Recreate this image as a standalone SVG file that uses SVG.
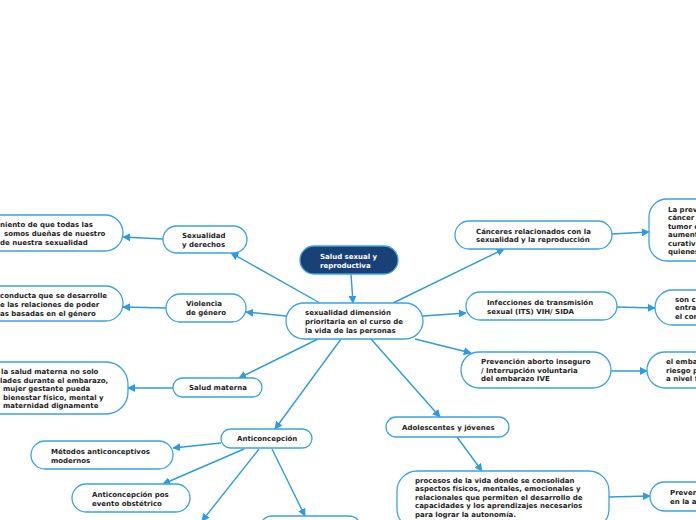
<svg xmlns="http://www.w3.org/2000/svg" width="696" height="520" viewBox="0 0 696 520">
<defs>
<marker id="ah" viewBox="0 0 10 10" refX="9" refY="5" markerWidth="8" markerHeight="8" markerUnits="userSpaceOnUse" orient="auto">
<path d="M0,0 L10,5 L0,10 z" fill="#2d9be3"/>
</marker>
<style>
.n{fill:#fff;stroke:#3aa3e8;stroke-width:1.3}
.r{fill:#1a4176;stroke:#3aa3e8;stroke-width:1.3}
.t{font-family:"DejaVu Sans",Verdana,sans-serif;font-weight:bold;font-size:7px;fill:#1e1e1e}
.w{fill:#fff}
.c path{fill:none;stroke:#2d9be3;stroke-width:1.4;marker-end:url(#ah)}
</style>
</defs>
<rect width="696" height="520" fill="#fff"/>
<g class="c">
<path d="M351,274 L353,303"/>
<path d="M320,303 L231,253"/>
<path d="M163,239 L123,237"/>
<path d="M286,316 L246,312"/>
<path d="M166,308 L123,307"/>
<path d="M318,339 L239,378"/>
<path d="M173,388 L128,388"/>
<path d="M341,339 L275,429"/>
<path d="M221,443 L173,448"/>
<path d="M244,449 L163,484"/>
<path d="M259,449 L202,521"/>
<path d="M272,449 L305,516"/>
<path d="M371,339 L440,417"/>
<path d="M457,437 L482,471"/>
<path d="M609,497 L650,496"/>
<path d="M393,303 L504,249"/>
<path d="M612,234 L649,232"/>
<path d="M423,316 L466,313"/>
<path d="M617,307 L655,308"/>
<path d="M415,339 L471,353"/>
<path d="M611,371 L647,371"/>
</g>
<g id="root">
<rect class="r" x="300" y="246" width="98" height="28" rx="14"/>
<text class="t w" x="320" y="259">Salud sexual y</text>
<text class="t w" x="320" y="268">reproductiva</text>
</g>
<g id="central">
<rect class="n" x="286" y="303" width="137" height="36" rx="18"/>
<text class="t" x="305" y="315">sexualidad dimensión</text>
<text class="t" x="305" y="324">prioritaria en el curso de</text>
<text class="t" x="305" y="333">la vida de las personas</text>
</g>
<g id="sexualidad">
<rect class="n" x="163" y="226" width="84" height="27" rx="13.5"/>
<text class="t" x="182" y="238">Sexualidad</text>
<text class="t" x="182" y="247">y derechos</text>
</g>
<g id="sexualidad-desc">
<rect class="n" x="-60" y="215" width="183" height="36" rx="18"/>
<text class="t" x="0" y="227">niento de que todas las</text>
<text class="t" x="4" y="236">somos dueñas de nuestro</text>
<text class="t" x="0" y="245">de nuestra sexualidad</text>
</g>
<g id="violencia">
<rect class="n" x="166" y="294" width="80" height="28" rx="14"/>
<text class="t" x="186" y="306">Violencia</text>
<text class="t" x="186" y="315">de género</text>
</g>
<g id="violencia-desc">
<rect class="n" x="-60" y="286" width="183" height="35" rx="17.5"/>
<text class="t" x="0" y="298">conducta que se desarrolle</text>
<text class="t" x="0" y="307">e las relaciones de poder</text>
<text class="t" x="0" y="316">as basadas en el género</text>
</g>
<g id="salud-materna">
<rect class="n" x="173" y="378" width="89" height="19" rx="9.5"/>
<text class="t" x="189" y="390">Salud materna</text>
</g>
<g id="salud-materna-desc">
<rect class="n" x="-60" y="362" width="188" height="52" rx="22"/>
<text class="t" x="1" y="374">la salud materna no solo</text>
<text class="t" x="0" y="383">lades durante el embarazo,</text>
<text class="t" x="3" y="391">mujer gestante pueda</text>
<text class="t" x="3" y="400">bienestar físico, mental y</text>
<text class="t" x="3" y="408">maternidad dignamente</text>
</g>
<g id="anticoncepcion">
<rect class="n" x="221" y="429" width="91" height="19" rx="9.5"/>
<text class="t" x="237" y="441">Anticoncepción</text>
</g>
<g id="metodos">
<rect class="n" x="31" y="441" width="142" height="28" rx="14"/>
<text class="t" x="51" y="454">Métodos anticonceptivos</text>
<text class="t" x="51" y="463">modernos</text>
</g>
<g id="pos-evento">
<rect class="n" x="72" y="484" width="118" height="28" rx="14"/>
<text class="t" x="92" y="497">Anticoncepción pos</text>
<text class="t" x="92" y="506">evento obstétrico</text>
</g>
<g id="anticoncepcion-otro">
<rect class="n" x="260" y="516" width="101" height="24" rx="12"/>
</g>
<g id="adolescentes">
<rect class="n" x="386" y="417" width="123" height="20" rx="10"/>
<text class="t" x="402" y="430">Adolescentes y jóvenes</text>
</g>
<g id="procesos">
<rect class="n" x="397" y="471" width="212" height="58" rx="20"/>
<text class="t" x="415" y="483">procesos de la vida donde se consolidan</text>
<text class="t" x="415" y="491">aspectos físicos, mentales, emocionales y</text>
<text class="t" x="415" y="500">relacionales que permiten el desarrollo de</text>
<text class="t" x="415" y="508">capacidades y los aprendizajes necesarios</text>
<text class="t" x="415" y="517">para lograr la autonomía.</text>
</g>
<g id="prevencion-adol">
<rect class="n" x="650" y="482" width="120" height="29" rx="14.5"/>
<text class="t" x="670" y="495">Preven</text>
<text class="t" x="670" y="504">en la a</text>
</g>
<g id="canceres">
<rect class="n" x="455" y="221" width="157" height="28" rx="14"/>
<text class="t" x="476" y="234">Cánceres relacionados con la</text>
<text class="t" x="476" y="242">sexualidad y la reproducción</text>
</g>
<g id="canceres-desc">
<rect class="n" x="649" y="199" width="120" height="62" rx="18"/>
<text class="t" x="668" y="212">La prev</text>
<text class="t" x="668" y="220">cáncer</text>
<text class="t" x="668" y="229">tumor e</text>
<text class="t" x="668" y="237">aument</text>
<text class="t" x="668" y="246">curativ</text>
<text class="t" x="668" y="254">quienes</text>
</g>
<g id="infecciones">
<rect class="n" x="466" y="292" width="151" height="28" rx="14"/>
<text class="t" x="487" y="305">Infecciones de transmisión</text>
<text class="t" x="487" y="314">sexual (ITS) VIH/ SIDA</text>
</g>
<g id="infecciones-desc">
<rect class="n" x="655" y="290" width="120" height="35" rx="17.5"/>
<text class="t" x="675" y="302">son c</text>
<text class="t" x="675" y="310">entra</text>
<text class="t" x="675" y="319">el cor</text>
</g>
<g id="aborto">
<rect class="n" x="461" y="352" width="150" height="36" rx="18"/>
<text class="t" x="481" y="364">Prevención aborto inseguro</text>
<text class="t" x="481" y="373">/ Interrupción voluntaria</text>
<text class="t" x="481" y="381">del embarazo IVE</text>
</g>
<g id="aborto-desc">
<rect class="n" x="647" y="352" width="120" height="36" rx="18"/>
<text class="t" x="666" y="364">el emba</text>
<text class="t" x="666" y="373">riesgo p</text>
<text class="t" x="666" y="381">a nivel f</text>
</g>
</svg>
